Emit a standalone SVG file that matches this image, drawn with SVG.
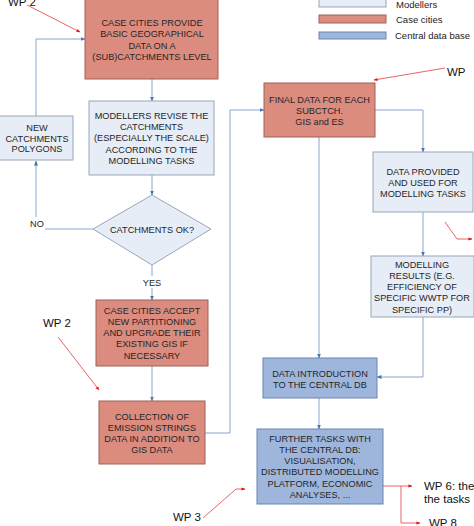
<svg xmlns="http://www.w3.org/2000/svg" width="474" height="526" viewBox="0 0 474 526">
<defs>
<style>
.t{font-family:"Liberation Sans",Arial,sans-serif;font-size:9.2px;fill:#262626;text-anchor:middle}
.lg{font-family:"Liberation Sans",Arial,sans-serif;font-size:9.5px;fill:#222}
.wp{font-family:"Liberation Sans",Arial,sans-serif;font-size:11.5px;fill:#111}
.city{fill:#dc8c7e;stroke:#9c6258;stroke-width:1}
.mod{fill:#e6edf6;stroke:#9aa6b6;stroke-width:1}
.db{fill:#9fb6dc;stroke:#6b84ad;stroke-width:1}
.c{fill:none;stroke:#8aa6d2;stroke-width:1}
.r{fill:none;stroke:#e83a40;stroke-width:0.8}
</style>
<marker id="ab" viewBox="0 0 10 10" refX="9" refY="5" markerWidth="5" markerHeight="5" orient="auto"><path d="M0,1 L10,5 L0,9 z" fill="#4f72b0"/></marker>
<marker id="ar" viewBox="0 0 10 10" refX="9" refY="5" markerWidth="5" markerHeight="5" orient="auto"><path d="M0,1 L10,5 L0,9 z" fill="#e3141c"/></marker>
</defs>
<rect width="474" height="526" fill="#fff"/>

<g id="legend">
<rect x="319" y="-1" width="67" height="8" class="mod"/>
<text x="396" y="8" class="lg">Modellers</text>
<rect x="319" y="15" width="67" height="8" class="city"/>
<text x="396" y="23" class="lg">Case cities</text>
<rect x="319" y="32" width="67" height="7" class="db"/>
<text x="395" y="39" class="lg">Central data base</text>
</g>

<g id="connectors">
<path class="c" d="M152,79 V101" marker-end="url(#ab)"/>
<path class="c" d="M36,116 V39 H85" marker-end="url(#ab)"/>
<path class="c" d="M152,175 V195" marker-end="url(#ab)"/>
<path class="c" d="M93,229 H36 V161" marker-end="url(#ab)"/>
<path class="c" d="M152,265 V300" marker-end="url(#ab)"/>
<path class="c" d="M152,366 V401" marker-end="url(#ab)"/>
<path class="c" d="M205,433 H230 V110 H264" marker-end="url(#ab)"/>
<path class="c" d="M375,110 H423 V152" marker-end="url(#ab)"/>
<path class="c" d="M423,212 V256" marker-end="url(#ab)"/>
<path class="c" d="M423,317 V377 H377" marker-end="url(#ab)"/>
<path class="c" d="M319,137 V358" marker-end="url(#ab)"/>
<path class="c" d="M319,398 V429" marker-end="url(#ab)"/>
<path class="r" d="M27,5 L80,32" marker-end="url(#ar)"/>
<path class="r" d="M58,337 L99,390" marker-end="url(#ar)"/>
<path class="r" d="M445,68 L374,80" marker-end="url(#ar)"/>
<path class="r" d="M445,222 L457,239 H472" marker-end="url(#ar)"/>
<path class="r" d="M203,518 L236,489 H245" marker-end="url(#ar)"/>
<path class="r" d="M383,486 H412" marker-end="url(#ar)"/>
<path class="r" d="M401,486 V523 H420" marker-end="url(#ar)"/>
<rect x="27" y="217" width="18" height="13" fill="#fff"/>
<text x="37" y="227" class="t">NO</text>
<rect x="138" y="276" width="28" height="12" fill="#fff"/>
<text x="152" y="286" class="t">YES</text>
</g>

<g id="wp-labels">
<text x="8" y="6" class="wp">WP 2</text>
<text x="43" y="327" class="wp">WP 2</text>
<text x="173" y="521" class="wp">WP 3</text>
<text x="447" y="76" class="wp">WP</text>
<text x="424" y="490" class="wp">WP 6: the</text>
<text x="424" y="503" class="wp">the tasks</text>
<text x="429" y="527" class="wp">WP 8</text>
</g>

<g id="case-cities-provide">
<rect x="85" y="-2" width="133" height="81" class="city"/>
<text class="t"><tspan x="152" y="26">CASE CITIES PROVIDE</tspan><tspan x="152" y="37.3">BASIC GEOGRAPHICAL</tspan><tspan x="152" y="48.6">DATA ON A</tspan><tspan x="152" y="60">(SUB)CATCHMENTS LEVEL</tspan></text>
</g>

<g id="modellers-revise">
<rect x="89" y="101" width="125" height="74" class="mod"/>
<text class="t"><tspan x="151.5" y="118.5">MODELLERS REVISE THE</tspan><tspan x="151.5" y="130">CATCHMENTS</tspan><tspan x="151.5" y="141.3">(ESPECIALLY THE SCALE)</tspan><tspan x="151.5" y="152.6">ACCORDING TO THE</tspan><tspan x="151.5" y="164">MODELLING TASKS</tspan></text>
</g>

<g id="new-catchments">
<rect x="-2" y="116" width="75" height="44" class="mod"/>
<text class="t"><tspan x="37" y="131">NEW</tspan><tspan x="37" y="141.5">CATCHMENTS</tspan><tspan x="37" y="152">POLYGONS</tspan></text>
</g>

<g id="catchments-ok">
<path d="M152,195 L211,229 L152,265 L93,229 Z" class="mod"/>
<text x="152" y="232.5" class="t">CATCHMENTS OK?</text>
</g>

<g id="case-cities-accept">
<rect x="96" y="300" width="112" height="66" class="city"/>
<text class="t"><tspan x="152" y="313.5">CASE CITIES ACCEPT</tspan><tspan x="152" y="324.8">NEW PARTITIONING</tspan><tspan x="152" y="336">AND UPGRADE THEIR</tspan><tspan x="152" y="347.3">EXISTING GIS IF</tspan><tspan x="152" y="358.6">NECESSARY</tspan></text>
</g>

<g id="collection">
<rect x="99" y="401" width="106" height="63" class="city"/>
<text class="t"><tspan x="152" y="419.5">COLLECTION OF</tspan><tspan x="152" y="430.8">EMISSION STRINGS</tspan><tspan x="152" y="442">DATA IN ADDITION TO</tspan><tspan x="152" y="453.3">GIS DATA</tspan></text>
</g>

<g id="final-data">
<rect x="264" y="83" width="111" height="54" class="city"/>
<text class="t"><tspan x="319.5" y="102.5">FINAL DATA FOR EACH</tspan><tspan x="319.5" y="113.8">SUBCTCH.</tspan><tspan x="319.5" y="125">GIS and ES</tspan></text>
</g>

<g id="data-provided">
<rect x="373" y="152" width="100" height="60" class="mod"/>
<text class="t"><tspan x="423" y="174.5">DATA PROVIDED</tspan><tspan x="423" y="185.8">AND USED FOR</tspan><tspan x="423" y="197">MODELLING TASKS</tspan></text>
</g>

<g id="modelling-results">
<rect x="371" y="256" width="103" height="61" class="mod"/>
<text class="t"><tspan x="422" y="267.5">MODELLING</tspan><tspan x="422" y="278.8">RESULTS (E.G.</tspan><tspan x="422" y="290">EFFICIENCY OF</tspan><tspan x="422" y="301.3">SPECIFIC WWTP FOR</tspan><tspan x="422" y="312.6">SPECIFIC PP)</tspan></text>
</g>

<g id="data-introduction">
<rect x="263" y="358" width="114" height="40" class="db"/>
<text class="t"><tspan x="320" y="376.5">DATA INTRODUCTION</tspan><tspan x="320" y="388">TO THE CENTRAL DB</tspan></text>
</g>

<g id="further-tasks">
<rect x="257" y="429" width="126" height="75" class="db"/>
<text class="t"><tspan x="320" y="441.5">FURTHER TASKS WITH</tspan><tspan x="320" y="452.8">THE CENTRAL DB:</tspan><tspan x="320" y="464">VISUALISATION,</tspan><tspan x="320" y="475.3">DISTRIBUTED MODELLING</tspan><tspan x="320" y="486.6">PLATFORM, ECONOMIC</tspan><tspan x="320" y="498">ANALYSES, ...</tspan></text>
</g>
</svg>
